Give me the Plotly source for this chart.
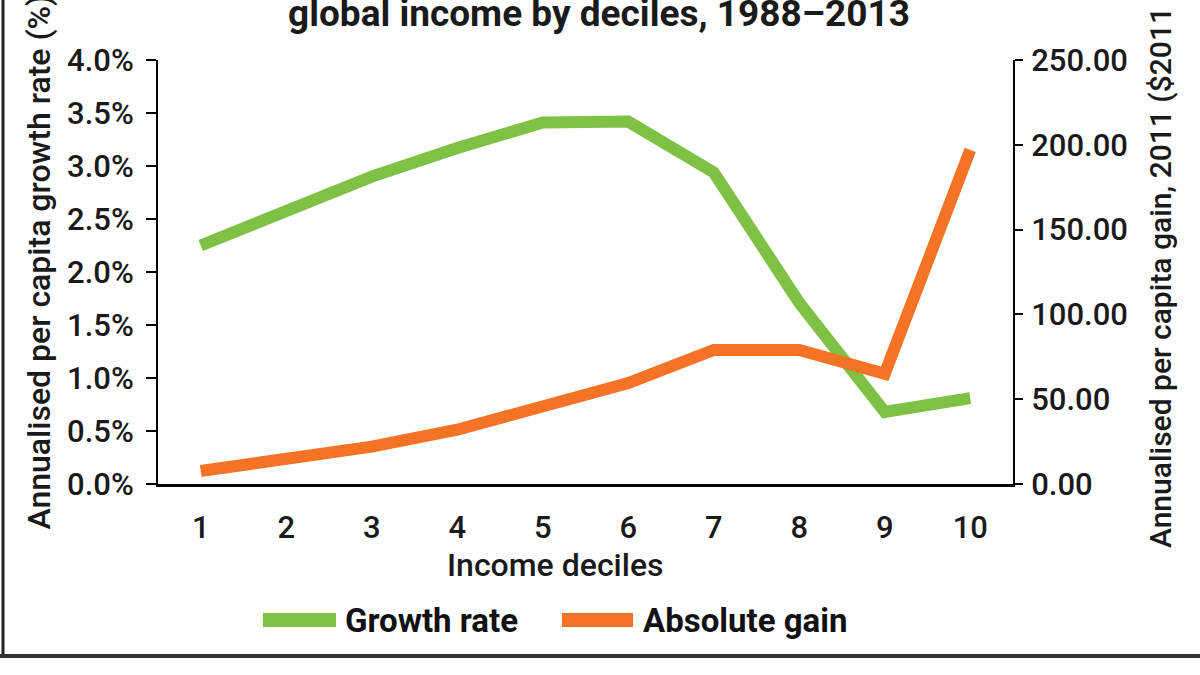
import plotly.graph_objects as go

# data
deciles = [1, 2, 3, 4, 5, 6, 7, 8, 9, 10]
growth_rate = [2.25, 2.58, 2.90, 3.17, 3.41, 3.42, 2.94, 1.71, 0.68, 0.81]   # % per year
absolute_gain = [7.7, 15, 22, 32, 45, 59.5, 79, 79, 65, 197]                 # $2011

left_ticks = [0, 0.5, 1.0, 1.5, 2.0, 2.5, 3.0, 3.5, 4.0]
right_ticks = [0, 50, 100, 150, 200, 250]

GREEN = "#7fc144"
ORANGE = "#f47325"
FONT = "Roboto, sans-serif"

fig = go.Figure()
fig.add_trace(go.Scatter(x=deciles, y=growth_rate, name="Growth rate", mode="lines",
                         line=dict(color=GREEN, width=12), yaxis="y"))
fig.add_trace(go.Scatter(x=deciles, y=absolute_gain, name="Absolute gain", mode="lines",
                         line=dict(color=ORANGE, width=12), yaxis="y2"))

fig.update_layout(
    width=1200, height=675,
    margin=dict(l=158, r=187, t=60, b=191),
    paper_bgcolor="white", plot_bgcolor="white",
    showlegend=False,
    font=dict(family=FONT, size=31, color="#1a1a1a", weight=500),
    xaxis=dict(range=[0.5, 10.5], tickvals=deciles, ticktext=[str(d) for d in deciles],
               showgrid=False, zeroline=False, showline=True, linecolor="black", linewidth=3,
               ticks="", ticklabelstandoff=14),
    yaxis=dict(range=[0, 4.0], tickvals=left_ticks,
               ticktext=["%.1f%%" % t for t in left_ticks],
               showgrid=False, zeroline=False, showline=True, linecolor="black", linewidth=2,
               ticks="outside", ticklen=10, tickwidth=2, tickcolor="black",
               ticklabelstandoff=6),
    yaxis2=dict(range=[0, 250], tickvals=right_ticks,
                ticktext=["%.2f" % t for t in right_ticks],
                overlaying="y", side="right",
                showgrid=False, zeroline=False, showline=True, linecolor="black", linewidth=2,
                ticks="outside", ticklen=8, tickwidth=2, tickcolor="black",
                ticklabelstandoff=2),
)

# titles (the picture is cropped, so the top bits fall off the page)
fig.add_annotation(text="<b>global income by deciles, 1988\u20132013</b>", xref="paper", yref="paper",
                   x=0.516, y=1.0, yshift=23, xanchor="center", yanchor="bottom", showarrow=False,
                   font=dict(size=37, color="#1a1a1a"))
fig.add_annotation(text="Annualised per capita growth rate (%)", xref="paper", yref="paper",
                   x=0, xshift=-120, y=0, yshift=-48, textangle=-90,
                   xanchor="center", yanchor="bottom", showarrow=False, font=dict(size=32))
fig.add_annotation(text="Annualised per capita gain, 2011 ($2011 PPP)", xref="paper", yref="paper",
                   x=1, xshift=147, y=0, yshift=-66, textangle=-90,
                   xanchor="center", yanchor="bottom", showarrow=False, font=dict(size=30))
fig.add_annotation(text="Income deciles", xref="paper", yref="paper",
                   x=0.465, y=0, yshift=-81, xanchor="center", yanchor="middle",
                   showarrow=False, font=dict(size=32))

# hand-made legend
for x0, x1, col, lbl, tx in [(263, 336, GREEN, "Growth rate", 343),
                             (562, 633, ORANGE, "Absolute gain", 641)]:
    fig.add_shape(type="line", xref="paper", yref="paper",
                  x0=(x0 - 158) / 855, x1=(x1 - 158) / 855,
                  y0=(484 - 620) / 424, y1=(484 - 620) / 424,
                  line=dict(color=col, width=14))
    fig.add_annotation(text="<b>" + lbl + "</b>", xref="paper", yref="paper",
                       x=(tx - 158) / 855, y=(484 - 620) / 424, xanchor="left", yanchor="middle",
                       showarrow=False, font=dict(size=33, color="#111111"))

# frame of the original graphic
fig.add_shape(type="line", xref="paper", yref="paper", x0=-155 / 855, x1=-155 / 855,
              y0=(484 - 655) / 424, y1=484 / 424 + 0.1, line=dict(color="#222222", width=3))
fig.add_shape(type="line", xref="paper", yref="paper", x0=-158 / 855, x1=1042 / 855,
              y0=(484 - 656) / 424, y1=(484 - 656) / 424, line=dict(color="#333333", width=4))

# drop the browser's default 8px body margin so the figure sits at the page corner
fig.write_html("out.html", config={"displayModeBar": False},
               post_script="document.body.style.margin='0';")
